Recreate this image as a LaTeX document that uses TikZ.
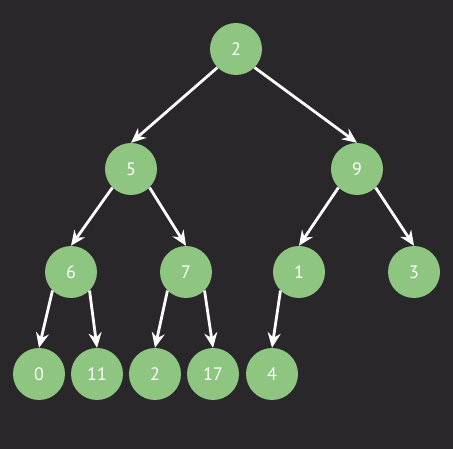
\documentclass[tikz,border=0pt]{standalone}
\usepackage{fontspec}
\setmainfont{PT Sans}
\usetikzlibrary{arrows.meta}
\definecolor{HeapBg}{HTML}{29272A}
\definecolor{HeapGreen}{HTML}{8EC580}
\tikzset{
    key/.style = {circle, fill=HeapGreen, minimum size=52pt, inner sep=0pt,
        text=white, font=\fontsize{18}{20}\selectfont},
    link/.style = {draw=white, line width=2.8pt, -{Stealth[length=15pt,width=13pt,inset=5pt]}}
}
\begin{document}
\begin{tikzpicture}[x=1pt,y=-1pt]
            \fill[HeapBg] (0,0) rectangle (453,449);
            \useasboundingbox (0,0) rectangle (453,449);
            \node[key] (k2) at (236,49) {2};
            \node[key] (k5) at (131,169) {5};
            \node[key] (k9) at (357,169) {9};
            \node[key] (k6) at (71,272) {6};
            \node[key] (k7) at (186,272) {7};
            \node[key] (k1) at (299,272) {1};
            \node[key] (k3) at (414,272) {3};
            \node[key] (k0) at (39,374) {0};
            \node[key] (k11) at (97,374) {11};
            \node[key] (k2b) at (155,374) {2};
            \node[key] (k17) at (213,374) {17};
            \node[key] (k4) at (272,374) {4};
            % left child from south west, right child from south east
            \foreach \a/\b in {k2/k5,k5/k6,k9/k1,k6/k0,k7/k2b,k1/k4}
                \draw[link] (\a.south west) -- (\b.north);
            \foreach \a/\b in {k2/k9,k5/k7,k9/k3,k6/k11,k7/k17}
                \draw[link] (\a.south east) -- (\b.north);
            \end{tikzpicture}
\end{document}
